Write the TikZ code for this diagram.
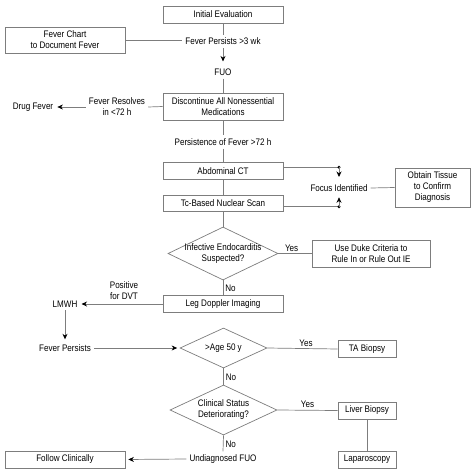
\documentclass[tikz,border=0pt]{standalone}
\usepackage{fontspec}
\setmainfont{Liberation Sans}[FakeStretch=0.85]
\usetikzlibrary{shapes.geometric,arrows.meta}
\definecolor{linegray}{RGB}{125,125,125}
\begin{document}
\begin{tikzpicture}[x=1pt,y=-1pt,
  font=\fontsize{9.5}{11}\selectfont,
  ln/.style={draw=linegray, line width=0.7pt},
  box/.style={draw=linegray, line width=0.7pt, rectangle, inner sep=0pt, align=center},
  txt/.style={align=center, inner sep=3pt},
  dia/.style={draw=linegray, line width=0.7pt, diamond, inner sep=0pt},
  arr/.style={ln, -{Stealth[length=5.5pt,width=5pt,color=black]}},
  lbl/.style={inner sep=1pt}
]
\useasboundingbox (0,0) rectangle (474,474);

% nodes
\node[box, minimum width=120pt, minimum height=17pt] (init) at (223,14.5) {Initial Evaluation};
\node[box, minimum width=120pt, minimum height=26pt] (chart) at (65,40) {Fever Chart\\to Document Fever};
\node[txt] (persist3) at (223,41.5) {Fever Persists >3 wk};
\node[txt] (fuo) at (223,72) {FUO};
\node[box, minimum width=120pt, minimum height=27pt] (disc) at (223,106.5) {Discontinue All Nonessential\\Medications};
\node[txt] (resolves) at (117,107) {Fever Resolves\\in <72 h};
\node[txt] (drug) at (33,107) {Drug Fever};
\node[txt] (persist72) at (223,142) {Persistence of Fever >72 h};
\node[box, minimum width=120pt, minimum height=16.5pt] (ct) at (223,171) {Abdominal CT};
\node[box, minimum width=120pt, minimum height=16.5pt] (tc) at (223,203.3) {Tc-Based Nuclear Scan};
\node[txt] (focus) at (339,188) {Focus Identified};
\node[box, minimum width=75pt, minimum height=39pt] (tissue) at (432.5,187.5) {Obtain Tissue\\to Confirm\\Diagnosis};
\node[dia, minimum width=110pt, minimum height=53pt] (ie) at (223,253.5) {};
\node[txt] (ietxt) at (223,253.5) {Infective Endocarditis\\Suspected?};
\node[box, minimum width=118pt, minimum height=27pt] (duke) at (371,253.5) {Use Duke Criteria to\\Rule In or Rule Out IE};
\node[box, minimum width=120pt, minimum height=16.5pt] (leg) at (223,304) {Leg Doppler Imaging};
\node[txt] (lmwh) at (65,304) {LMWH};
\node[txt] (posdvt) at (124,291) {Positive\\for DVT};
\node[txt] (fpersist) at (65,348) {Fever Persists};
\node[dia, minimum width=87pt, minimum height=40pt] (age) at (223.5,348) {};
\node[txt] (agetxt) at (223.5,348) {>Age 50 y};
\node[box, minimum width=58pt, minimum height=16.5pt] (ta) at (367,349) {TA Biopsy};
\node[dia, minimum width=107pt, minimum height=50pt] (clin) at (223.5,410) {};
\node[txt] (clintxt) at (223.5,410) {Clinical Status\\Deteriorating?};
\node[box, minimum width=58pt, minimum height=17pt] (liver) at (367,410.5) {Liver Biopsy};
\node[box, minimum width=58pt, minimum height=17pt] (lap) at (367,459.5) {Laparoscopy};
\node[txt] (undiag) at (223,459) {Undiagnosed FUO};
\node[box, minimum width=120pt, minimum height=17pt] (follow) at (65,459.5) {Follow Clinically};

% connectors
\draw[ln] (init.south) -- (persist3.north);
\draw[ln] (chart.east) -- (chart.east -| persist3.west);
\draw[arr, shorten >=4pt] (persist3.south) -- (fuo.north);
\draw[ln] (fuo.south) -- (disc.north);
\draw[ln] (disc.west) -- (resolves.east);
\draw[arr, shorten >=1pt] (resolves.west) -- (drug.east);
\draw[ln] (disc.south) -- (persist72.north);
\draw[ln] (persist72.south) -- (ct.north);
\draw[ln] (ct.south) -- (tc.north);

\coordinate (f1) at (339,167.3);
\coordinate (f2) at (339,206.7);
\coordinate (f1t) at (339,177);
\coordinate (f2t) at (339,197.3);
\draw[ln] ([yshift=3.7pt]ct.east) -- (f1);
\draw[ln] ([yshift=-3.4pt]tc.east) -- (f2);
\fill (f1) circle (1.6pt);
\fill (f2) circle (1.6pt);
\draw[arr] (f1) -- (f1t);
\draw[arr] (f2) -- (f2t);
\draw[ln] (focus.east) -- (tissue.west);

\draw[ln] (tc.south) -- (ie.north);
\draw[ln] (ie.east) -- (duke.west) node[lbl, pos=0.4, above=1pt] {Yes};
\draw[ln] (ie.south) -- (leg.north) node[lbl, pos=0.5, right=1pt] {No};
\draw[arr, shorten >=1pt] (leg.west) -- (lmwh.east);
\draw[arr, shorten >=2pt] (lmwh.south) -- (fpersist.north);
\draw[arr, shorten >=2.5pt] (fpersist.east) -- (age.west);
\draw[ln] (age.east) -- (ta.west) node[lbl, pos=0.55, above=1pt] {Yes};
\draw[ln] (age.south) -- (clin.north) node[lbl, pos=0.55, right=1pt] {No};
\draw[ln] (clin.east) -- (liver.west) node[lbl, pos=0.5, above=1pt] {Yes};
\draw[ln] (liver.south) -- (lap.north);
\draw[ln] (clin.south) -- (undiag.north) node[lbl, pos=0.55, right=1pt] {No};
\draw[arr, shorten >=3pt] (undiag.west) -- (follow.east);
\end{tikzpicture}
\end{document}
